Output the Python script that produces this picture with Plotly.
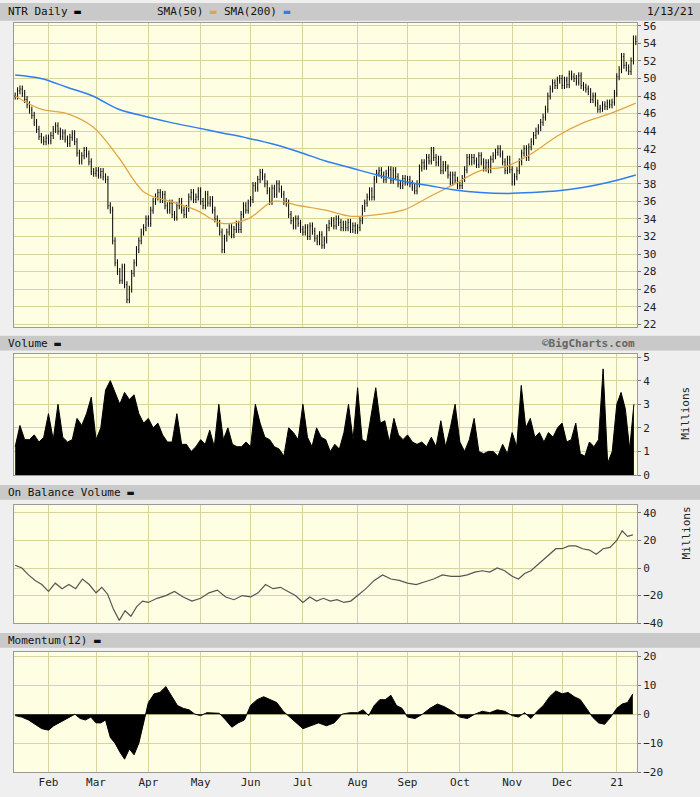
import pandas as pd
import plotly.graph_objects as go
from plotly.subplots import make_subplots

# daily closes, month by month (business days)
close_by_month = [
    [48, 48.6, 48.8, 48.3, 47.6, 47, 46.4, 45.8, 45, 44.2, 43.4, 43, 42.8, 43.2],
    [42.9, 43.5, 44.2, 44.6, 44, 43.4, 43.8, 43.1, 42.6, 43.3, 43.7, 42.8, 41.5, 40.6, 41.2, 41.8, 41.4, 40.5, 39.4, 39.2],
    [39.5, 39.0, 39.4, 38.8, 38.5, 35.5, 35.0, 31.5, 29.0, 28.0, 27.0, 28.5, 26.5, 24.8, 26.0, 27.8, 29.0, 30.5, 31.5, 32.5, 33.0, 34.0],
    [33.5, 35, 36, 36.5, 37, 36.2, 36.8, 35.5, 35, 35.8, 34.5, 34.2, 35.5, 36, 35, 34.5, 35.2, 36.5, 37, 36.2, 36.5, 37.2],
    [36, 35.5, 36.8, 35.8, 36.2, 35, 34, 33.5, 32.5, 30.5, 31.8, 32.5, 33, 32.2, 32.8, 33.4, 32.8, 34.5, 35.5, 35, 35.8],
    [36.2, 37.8, 37.5, 38.5, 39.3, 38.8, 38, 37.2, 36, 37.5, 36.8, 38, 37.4, 36.8, 36, 35.8, 34.5, 33.8, 33.2, 34, 33.5, 32.8],
    [32.5, 33, 32, 33.2, 32.6, 31.8, 31.4, 32.2, 31, 31.6, 33, 33.5, 33.8, 33.2, 34, 33.6, 33, 33.4, 33, 33.6, 32.8, 33.2, 32.7],
    [33, 33.8, 35.2, 35.8, 36.5, 37.2, 36.5, 38.5, 39.2, 39.5, 39, 38.5, 39.2, 39.6, 38.4, 39.5, 38.8, 38, 37.8, 38.6, 38.2],
    [38.5, 38, 37.6, 37.2, 38, 39.8, 40.4, 40, 41, 40.6, 41.8, 41, 40.4, 40.8, 39.5, 40.2, 39.8, 39, 38.2, 39, 38.4, 37.8],
    [37.8, 38.6, 39.6, 41, 40.5, 41, 40.6, 40.2, 41.2, 40.5, 39.8, 40.4, 39.6, 40.8, 41.2, 41.6, 42, 41.4, 40.5, 39.5, 40.8, 39.6],
    [38.2, 38.8, 39.5, 40.5, 41.5, 42, 41, 42.2, 42.8, 43.5, 44, 44.4, 45, 45.6, 46.5, 48, 48.8, 49.5, 49.2, 49.8, 50],
    [49.2, 49.8, 49.3, 50.5, 50.2, 50, 49.6, 50.3, 49.2, 49, 48.8, 48.5, 47.6, 48, 47.2, 46.5, 46.6, 47, 46.8, 47.2, 47, 47.3, 48.3],
    [50.2, 51, 52.5, 51.5, 51.2, 50.8, 52, 54.5, 54.2],
]

# moving averages, sampled evenly across the year
sma50_pts = [48, 46.5, 46, 44.5, 41, 37, 36, 35, 33.5, 34, 36, 35.5, 35, 34.3, 34.5, 35, 36.5, 38, 39.5, 40, 41.5, 43.5, 45, 46, 47.2]
sma200_pts = [50.4, 50, 49, 48, 46.5, 45.7, 45, 44.4, 43.8, 43.2, 42.5, 41.6, 40.6, 39.8, 39, 38.3, 37.8, 37.3, 37, 36.9, 37, 37.2, 37.6, 38.2, 39]

volume_by_month = [
    [1.2, 2.1, 1.5, 1.5, 1.7, 1.4, 1.6],
    [2.6, 1.5, 3.0, 1.6, 1.4, 1.5, 2.4, 2.1, 2.6, 3.3],
    [1.5, 2.0, 3.6, 4.0, 3.5, 3.0, 3.5, 3.2, 3.4, 2.6, 2.2],
    [2.4, 2.0, 2.2, 1.7, 1.4, 1.4, 2.6, 1.3, 1.3, 1.0, 1.2],
    [1.5, 1.3, 1.9, 1.2, 3.0, 1.5, 2.0, 1.3, 1.2, 1.2, 1.4],
    [1.2, 3.0, 2.2, 1.6, 1.5, 1.2, 1.1, 0.8, 2.0, 1.8, 1.5],
    [3.0, 1.6, 1.2, 2.0, 1.6, 1.5, 1.0, 1.3, 1.1, 1.8, 3.0, 1.5],
    [3.7, 1.5, 1.4, 2.6, 3.7, 2.2, 2.3, 1.4, 2.4, 1.7, 1.5],
    [1.7, 1.4, 1.3, 1.4, 1.2, 1.6, 1.2, 2.3, 1.2, 2.0, 3.0],
    [1.4, 1.0, 1.5, 2.4, 1.0, 0.9, 1.0, 1.0, 0.8, 1.3, 0.9],
    [1.8, 1.2, 3.8, 2.0, 2.4, 1.6, 1.8, 1.4, 1.8, 1.6, 2.0],
    [2.2, 1.4, 1.5, 2.2, 0.9, 0.8, 1.4, 1.2, 1.5, 4.5, 0.5, 1.0],
    [3.0, 3.5, 2.8, 1.1, 3.0],
]

obv_by_month = [
    [2, 0, -5, -9, -12],
    [-17, -11, -15, -12, -15, -8, -12],
    [-18, -14, -19, -30, -38, -31, -35, -28, -24],
    [-25, -22, -20, -17, -21, -24],
    [-22, -18, -16, -21, -23, -20],
    [-21, -18, -12, -15, -14, -17, -20],
    [-25, -21, -24, -22, -24, -23, -25, -24],
    [-20, -15, -9, -5, -8, -9],
    [-11, -12, -10, -8, -5, -6],
    [-6, -5, -3, -2, -3, 0, -2],
    [-6, -8, -4, -2, 2, 6, 10, 14],
    [14, 16, 16, 14, 13, 10, 14, 15],
    [20, 27, 23, 24],
]

momentum_by_month = [
    [-0.5, -1, -2, -3.5, -5],
    [-5.5, -4, -3, -2, -1, 0, -1.5, -2, -1],
    [-3, -3, -2, -8, -10, -13, -15.5, -12, -14, -10, -3],
    [4, 7, 7.5, 9.5, 6, 3, 2, 1.5, 0],
    [-0.5, 0.5, 0.5, 0.3, -2, -4.5, -3, -2],
    [3, 5, 6, 5, 4, 1, -1, -3],
    [-5, -4, -3, -4, -3, 0, 0.5],
    [0.5, 1.5, -0.5, 3, 5, 5, 6.5, 3, 2],
    [-1, -1.5, 0, 2, 3.5, 2.5, 1],
    [-1, -1.5, 0, 1, 0.5, 1.5, 1],
    [-0.5, -1, 0.5, -1.5, 1, 3, 6, 8],
    [7, 7.5, 6, 5, 2, -1, -3, -3.5, -1],
    [2, 3.5, 4, 7],
]

month_labels = ["Feb", "Mar", "Apr", "May", "Jun", "Jul", "Aug", "Sep", "Oct", "Nov", "Dec", "21"]

close = [c for m in close_by_month for c in m]
n = len(close)
month_start = []
pos = 0
for m in close_by_month:
    month_start.append(pos)
    pos += len(m)
month_len = [len(m) for m in close_by_month]

opens = [close[0]] + close[:-1]
highs = [max(o, c) + 0.4 for o, c in zip(opens, close)]
lows = [min(o, c) - 0.4 for o, c in zip(opens, close)]
idx = list(range(n))


def spread(by_month):
    xs, ys = [], []
    for i, vals in enumerate(by_month):
        step = month_len[i] / len(vals)
        for k, v in enumerate(vals):
            xs.append(month_start[i] + k * step)
            ys.append(v)
    return xs, ys


def spread_flat(vals):
    step = (n - 1) / (len(vals) - 1)
    return [k * step for k in range(len(vals))], vals


fig = make_subplots(rows=4, cols=1)
fig.add_trace(go.Ohlc(x=idx, open=opens, high=highs, low=lows, close=close,
                      increasing_line_color="black", decreasing_line_color="black",
                      line_width=1, tickwidth=0.25), 1, 1)
sx, sy = spread_flat(sma50_pts)
fig.add_trace(go.Scatter(x=sx, y=sy, mode="lines", line=dict(color="#e0a545", width=1.3, shape="spline")), 1, 1)
sx, sy = spread_flat(sma200_pts)
fig.add_trace(go.Scatter(x=sx, y=sy, mode="lines", line=dict(color="#2f7df0", width=1.5, shape="spline")), 1, 1)

vx, vy = spread(volume_by_month)
fig.add_trace(go.Scatter(x=vx, y=vy, mode="lines", fill="tozeroy", fillcolor="black",
                         line=dict(color="black", width=1)), 2, 1)
ox, oy = spread(obv_by_month)
fig.add_trace(go.Scatter(x=ox, y=oy, mode="lines", line=dict(color="#555555", width=1.2)), 3, 1)
mx, my = spread(momentum_by_month)
fig.add_trace(go.Scatter(x=mx, y=my, mode="lines", fill="tozeroy", fillcolor="black",
                         line=dict(color="black", width=1)), 4, 1)

H = 797
def dom(top, bottom):
    return [1 - bottom / H, 1 - top / H]

grid = "#d9d49c"
xcommon = dict(domain=[14 / 700, 637 / 700], range=[-0.5, n - 0.5], tickvals=month_start[1:],
               ticktext=month_labels, showgrid=True, gridcolor=grid, zeroline=False,
               showline=True, mirror=True, linecolor="#9a9a9a", rangeslider_visible=False)
ycommon = dict(side="right", showgrid=True, gridcolor=grid, zeroline=False, showline=True,
               mirror=True, linecolor="#9a9a9a", ticks="outside", ticklen=3, tickcolor="#777",
               tickfont=dict(size=11, family="DejaVu Sans Mono", color="#222"))
for i in range(1, 5):
    x = dict(xcommon)
    x["showticklabels"] = (i == 4)
    x["tickfont"] = dict(size=11, family="DejaVu Sans Mono", color="#222")
    fig.update_layout(**{f"xaxis{i if i > 1 else ''}": x})

fig.update_layout(
    yaxis=dict(ycommon, domain=dom(20, 328), range=[21.7, 56.35], tickvals=list(range(22, 57, 2))),
    yaxis2=dict(ycommon, domain=dom(355, 478), range=[0, 5.15], tickvals=[0, 1, 2, 3, 4, 5]),
    yaxis3=dict(ycommon, domain=dom(508, 628), range=[-40, 46], tickvals=[-40, -20, 0, 20, 40]),
    yaxis4=dict(ycommon, domain=dom(657, 779), range=[-20, 21.5], tickvals=[-20, -10, 0, 10, 20]),
)

shapes = []
for top, bot in [(0, 18), (337, 352), (488, 503), (638, 653)]:
    shapes.append(dict(type="rect", xref="paper", yref="paper", x0=0, x1=1,
                       y0=1 - bot / H, y1=1 - top / H, fillcolor="#c9c9c9", line_width=0, layer="below"))

anns = []
def label(x, ytop, text, color="#111", anchor="left"):
    anns.append(dict(xref="paper", yref="paper", x=x / 700, y=1 - ytop / H, text=text,
                     showarrow=False, xanchor=anchor, yanchor="middle",
                     font=dict(family="DejaVu Sans Mono", size=11, color=color)))

label(6, 9, "NTR Daily <span style='color:black'>▬</span>")
label(155, 9, "SMA(50) <span style='color:#e0a545'>▬</span>")
label(222, 9, "SMA(200) <span style='color:#2f7df0'>▬</span>")
label(695, 9, "1/13/21", anchor="right")
label(6, 345, "Volume ▬")
label(637, 345, "<b>©BigCharts.com</b>", color="#666", anchor="right")
label(6, 496, "On Balance Volume ▬")
label(6, 646, "Momentum(12) ▬")
for ymid in (416, 566):
    anns.append(dict(xref="paper", yref="paper", x=686 / 700, y=1 - ymid / H, text="Millions",
                     textangle=-90, showarrow=False, xanchor="center",
                     font=dict(family="DejaVu Sans Mono", size=11, color="#222")))

fig.update_layout(width=700, height=797, margin=dict(l=0, r=0, t=0, b=0),
                  paper_bgcolor="#efefef", plot_bgcolor="#fefee2", showlegend=False,
                  shapes=shapes, annotations=anns)
fig.write_html("out.html", config={"displayModeBar": False},
               post_script="document.body.style.margin='0';")
